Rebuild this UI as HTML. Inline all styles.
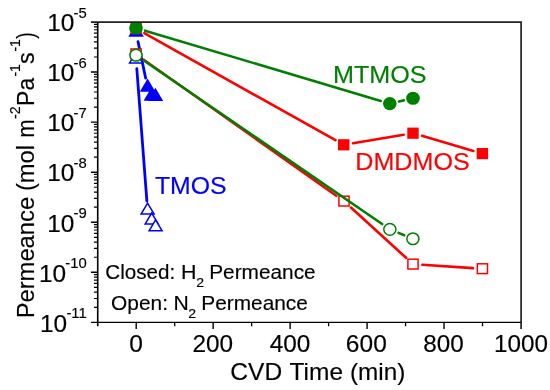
<!DOCTYPE html>
<html><head><meta charset="utf-8"><title>Permeance vs CVD Time</title>
<style>
html,body{margin:0;padding:0;background:#fff;}
svg{display:block;font-family:"Liberation Sans",Arial,sans-serif;}
text{stroke-width:0.15px;paint-order:stroke;}
</style></head><body>
<svg width="550" height="390" viewBox="0 0 550 390">
<rect width="550" height="390" fill="#fff"/>
<defs><clipPath id="pc"><rect x="97.72" y="21.50" width="423.28" height="301.36"/></clipPath></defs>
<g clip-path="url(#pc)">
<line x1="138.02" y1="41.60" x2="145.68" y2="78.20" stroke="#0000ff" stroke-width="2.8" stroke-linecap="round"/>
<polygon points="136.10,23.60 128.30,36.80 143.90,36.80" fill="#0000ff"/>
<polygon points="147.60,78.60 139.80,91.80 155.40,91.80" fill="#0000ff"/>
<polygon points="151.40,87.60 143.60,100.80 159.20,100.80" fill="#0000ff"/>
<polygon points="155.40,87.80 147.60,101.00 163.20,101.00" fill="#0000ff"/>
<line x1="136.81" y1="68.67" x2="146.89" y2="201.03" stroke="#0000ff" stroke-width="2.8" stroke-linecap="round"/>
<polygon points="136.10,52.00 129.60,62.95 142.60,62.95" fill="#fff" stroke="#0000ff" stroke-width="1.5" stroke-linejoin="miter"/>
<polygon points="147.60,203.10 141.10,214.05 154.10,214.05" fill="#fff" stroke="#0000ff" stroke-width="1.5" stroke-linejoin="miter"/>
<polygon points="151.70,213.00 145.20,223.95 158.20,223.95" fill="#fff" stroke="#0000ff" stroke-width="1.5" stroke-linejoin="miter"/>
<polygon points="155.60,219.90 149.10,230.85 162.10,230.85" fill="#fff" stroke="#0000ff" stroke-width="1.5" stroke-linejoin="miter"/>
<line x1="144.30" y1="33.09" x2="335.50" y2="140.21" stroke="#ff0000" stroke-width="2.6" stroke-linecap="round"/>
<line x1="352.97" y1="143.25" x2="403.73" y2="134.75" stroke="#ff0000" stroke-width="2.6" stroke-linecap="round"/>
<line x1="422.02" y1="135.85" x2="473.38" y2="150.95" stroke="#ff0000" stroke-width="2.6" stroke-linecap="round"/>
<rect x="130.40" y="22.90" width="11.40" height="11.20" fill="#ff0000"/>
<rect x="338.00" y="139.20" width="11.40" height="11.20" fill="#ff0000"/>
<rect x="407.30" y="127.60" width="11.40" height="11.20" fill="#ff0000"/>
<rect x="476.70" y="148.00" width="11.40" height="11.20" fill="#ff0000"/>
<line x1="143.78" y1="59.72" x2="336.32" y2="195.78" stroke="#ff0000" stroke-width="2.6" stroke-linecap="round"/>
<line x1="350.95" y1="207.53" x2="406.05" y2="257.77" stroke="#ff0000" stroke-width="2.6" stroke-linecap="round"/>
<line x1="422.38" y1="264.72" x2="473.02" y2="268.08" stroke="#ff0000" stroke-width="2.6" stroke-linecap="round"/>
<rect x="131.00" y="49.00" width="10.20" height="9.80" fill="#fff" stroke="#ff0000" stroke-width="1.5"/>
<rect x="338.90" y="196.20" width="10.20" height="9.80" fill="#fff" stroke="#ff0000" stroke-width="1.5"/>
<rect x="407.90" y="259.20" width="10.20" height="9.80" fill="#fff" stroke="#ff0000" stroke-width="1.5"/>
<rect x="477.30" y="263.80" width="10.20" height="9.80" fill="#fff" stroke="#ff0000" stroke-width="1.5"/>
<line x1="145.01" y1="30.68" x2="380.79" y2="100.92" stroke="#008000" stroke-width="2.6" stroke-linecap="round"/>
<line x1="398.96" y1="101.49" x2="403.84" y2="100.36" stroke="#008000" stroke-width="2.6" stroke-linecap="round"/>
<ellipse cx="136.00" cy="28.00" rx="6.80" ry="6.60" fill="#008000"/>
<ellipse cx="389.80" cy="103.60" rx="6.80" ry="6.60" fill="#008000"/>
<ellipse cx="413.00" cy="98.25" rx="6.80" ry="6.60" fill="#008000"/>
<line x1="143.75" y1="60.52" x2="382.10" y2="224.03" stroke="#008000" stroke-width="2.6" stroke-linecap="round"/>
<line x1="398.55" y1="232.90" x2="404.20" y2="235.20" stroke="#008000" stroke-width="2.6" stroke-linecap="round"/>
<ellipse cx="136.00" cy="55.20" rx="6.05" ry="5.85" fill="#fff" stroke="#008000" stroke-width="1.5"/>
<ellipse cx="389.85" cy="229.35" rx="6.05" ry="5.85" fill="#fff" stroke="#008000" stroke-width="1.5"/>
<ellipse cx="412.90" cy="238.75" rx="6.05" ry="5.85" fill="#fff" stroke="#008000" stroke-width="1.5"/>
</g>
<g stroke="#000" fill="none" stroke-linecap="butt">
<path d="M90.92 22.10 H521.95" stroke-width="1.7" stroke="#222"/>
<path d="M521.10 22.00 V328.96" stroke-width="1.7" stroke="#222"/>
<path d="M97.72 22.00 V326.16" stroke-width="1.6"/>
<path d="M90.92 322.36 H521.00" stroke-width="1.3"/>
<path d="M90.92 72.06H97.72M90.92 122.12H97.72M90.92 172.18H97.72M90.92 222.24H97.72M90.92 272.30H97.72" stroke-width="1.4"/>
<path d="M93.92 56.99H97.72M93.92 48.18H97.72M93.92 41.92H97.72M93.92 37.07H97.72M93.92 33.11H97.72M93.92 29.75H97.72M93.92 26.85H97.72M93.92 24.29H97.72M93.92 107.05H97.72M93.92 98.24H97.72M93.92 91.98H97.72M93.92 87.13H97.72M93.92 83.17H97.72M93.92 79.81H97.72M93.92 76.91H97.72M93.92 74.35H97.72M93.92 157.11H97.72M93.92 148.30H97.72M93.92 142.04H97.72M93.92 137.19H97.72M93.92 133.23H97.72M93.92 129.87H97.72M93.92 126.97H97.72M93.92 124.41H97.72M93.92 207.17H97.72M93.92 198.36H97.72M93.92 192.10H97.72M93.92 187.25H97.72M93.92 183.29H97.72M93.92 179.93H97.72M93.92 177.03H97.72M93.92 174.47H97.72M93.92 257.23H97.72M93.92 248.42H97.72M93.92 242.16H97.72M93.92 237.31H97.72M93.92 233.35H97.72M93.92 229.99H97.72M93.92 227.09H97.72M93.92 224.53H97.72M93.92 307.29H97.72M93.92 298.48H97.72M93.92 292.22H97.72M93.92 287.37H97.72M93.92 283.41H97.72M93.92 280.05H97.72M93.92 277.15H97.72M93.92 274.59H97.72" stroke-width="1.2"/>
<path d="M136.20 322.36V328.96M213.16 322.36V328.96M290.12 322.36V328.96M367.08 322.36V328.96M444.04 322.36V328.96" stroke-width="1.4"/>
<path d="M174.68 322.36V326.16M251.64 322.36V326.16M328.60 322.36V326.16M405.56 322.36V326.16M482.52 322.36V326.16" stroke-width="1.3"/>
</g>
<text transform="translate(129.32 351.60) scale(1.0516 1)" font-size="23.4" fill="#000" stroke="#000">0</text>
<text transform="translate(192.48 351.60) scale(1.0413 1)" font-size="23.4" fill="#000" stroke="#000">200</text>
<text transform="translate(269.65 351.60) scale(1.0421 1)" font-size="23.4" fill="#000" stroke="#000">400</text>
<text transform="translate(345.87 351.60) scale(1.0494 1)" font-size="23.4" fill="#000" stroke="#000">600</text>
<text transform="translate(423.22 351.60) scale(1.0378 1)" font-size="23.4" fill="#000" stroke="#000">800</text>
<text transform="translate(494.08 351.60) scale(1.0370 1)" font-size="23.4" fill="#000" stroke="#000">1000</text>
<text transform="translate(73.56 18.00) scale(1.0450 1)" font-size="14.2" fill="#000" stroke="#000">-5</text>
<text transform="translate(47.16 31.30) scale(1.0450 1)" font-size="23.4" fill="#000" stroke="#000">10</text>
<text transform="translate(73.56 68.06) scale(1.0450 1)" font-size="14.2" fill="#000" stroke="#000">-6</text>
<text transform="translate(47.16 81.36) scale(1.0450 1)" font-size="23.4" fill="#000" stroke="#000">10</text>
<text transform="translate(73.56 118.12) scale(1.0450 1)" font-size="14.2" fill="#000" stroke="#000">-7</text>
<text transform="translate(47.16 131.42) scale(1.0450 1)" font-size="23.4" fill="#000" stroke="#000">10</text>
<text transform="translate(73.56 168.18) scale(1.0450 1)" font-size="14.2" fill="#000" stroke="#000">-8</text>
<text transform="translate(47.16 181.48) scale(1.0450 1)" font-size="23.4" fill="#000" stroke="#000">10</text>
<text transform="translate(73.56 218.24) scale(1.0450 1)" font-size="14.2" fill="#000" stroke="#000">-9</text>
<text transform="translate(47.16 231.54) scale(1.0450 1)" font-size="23.4" fill="#000" stroke="#000">10</text>
<text transform="translate(65.30 268.30) scale(1.0450 1)" font-size="14.2" fill="#000" stroke="#000">-10</text>
<text transform="translate(38.90 281.60) scale(1.0450 1)" font-size="23.4" fill="#000" stroke="#000">10</text>
<text transform="translate(66.40 318.36) scale(1.0450 1)" font-size="14.2" fill="#000" stroke="#000">-11</text>
<text transform="translate(40.00 331.66) scale(1.0450 1)" font-size="23.4" fill="#000" stroke="#000">10</text>
<text transform="translate(230.37 380.10) scale(1.0477 1)" font-size="23.4" fill="#000" stroke="#000">CVD</text>
<text transform="translate(289.55 380.10) scale(1.0462 1)" font-size="23.4" fill="#000" stroke="#000">Time</text>
<text transform="translate(349.88 380.10) scale(1.0391 1)" font-size="23.4" fill="#000" stroke="#000">(min)</text>
<text transform="translate(33.85 318.36) rotate(-90) scale(1.0154 1)" font-size="23.4" fill="#000" stroke="#000">Permeance</text>
<text transform="translate(33.85 191.08) rotate(-90) scale(1.0148 1)" font-size="23.4" fill="#000" stroke="#000">(mol</text>
<text transform="translate(33.85 137.68) rotate(-90) scale(0.9402 1)" font-size="23.4" fill="#000" stroke="#000">m</text>
<text transform="translate(20.45 118.94) rotate(-90) scale(1.0041 1)" font-size="14.2" fill="#000" stroke="#000">-2</text>
<text transform="translate(33.85 105.89) rotate(-90) scale(0.9800 1)" font-size="23.4" fill="#000" stroke="#000">Pa</text>
<text transform="translate(20.45 76.60) rotate(-90)" font-size="14.2" stroke="#000">-1</text>
<text transform="translate(33.85 63.94) rotate(-90) scale(0.9963 1)" font-size="23.4" fill="#000" stroke="#000">s</text>
<text transform="translate(20.45 51.60) rotate(-90)" font-size="14.2" stroke="#000">-1</text>
<text transform="translate(33.85 38.84) rotate(-90) scale(0.8224 1)" font-size="23.4" fill="#000" stroke="#000">)</text>
<text transform="translate(333.02 82.80) scale(1.0489 1)" font-size="24" fill="#008000" stroke="#008000">MTMOS</text>
<text transform="translate(355.33 169.50) scale(1.0465 1)" font-size="24" fill="#ff0000" stroke="#ff0000">DMDMOS</text>
<text transform="translate(154.94 194.10) scale(1.0348 1)" font-size="24" fill="#0000ff" stroke="#0000ff">TMOS</text>
<text transform="translate(105.37 278.90) scale(1.0007 1)" font-size="20.6" fill="#000" stroke="#000">Closed:</text>
<text transform="translate(180.88 278.90) scale(1.0405 1)" font-size="20.6" fill="#000" stroke="#000">H</text>
<text transform="translate(196.20 286.80) scale(1.1343 1)" font-size="12.4" fill="#000" stroke="#000">2</text>
<text transform="translate(209.18 278.90) scale(1.0113 1)" font-size="20.6" fill="#000" stroke="#000">Permeance</text>
<text transform="translate(111.01 310.40) scale(1.0150 1)" font-size="20.6" fill="#000" stroke="#000">Open:</text>
<text transform="translate(173.55 310.40) scale(1.0275 1)" font-size="20.6" fill="#000" stroke="#000">N</text>
<text transform="translate(188.30 318.30) scale(1.1343 1)" font-size="12.4" fill="#000" stroke="#000">2</text>
<text transform="translate(201.28 310.40) scale(1.0122 1)" font-size="20.6" fill="#000" stroke="#000">Permeance</text>
</svg>
</body></html>
